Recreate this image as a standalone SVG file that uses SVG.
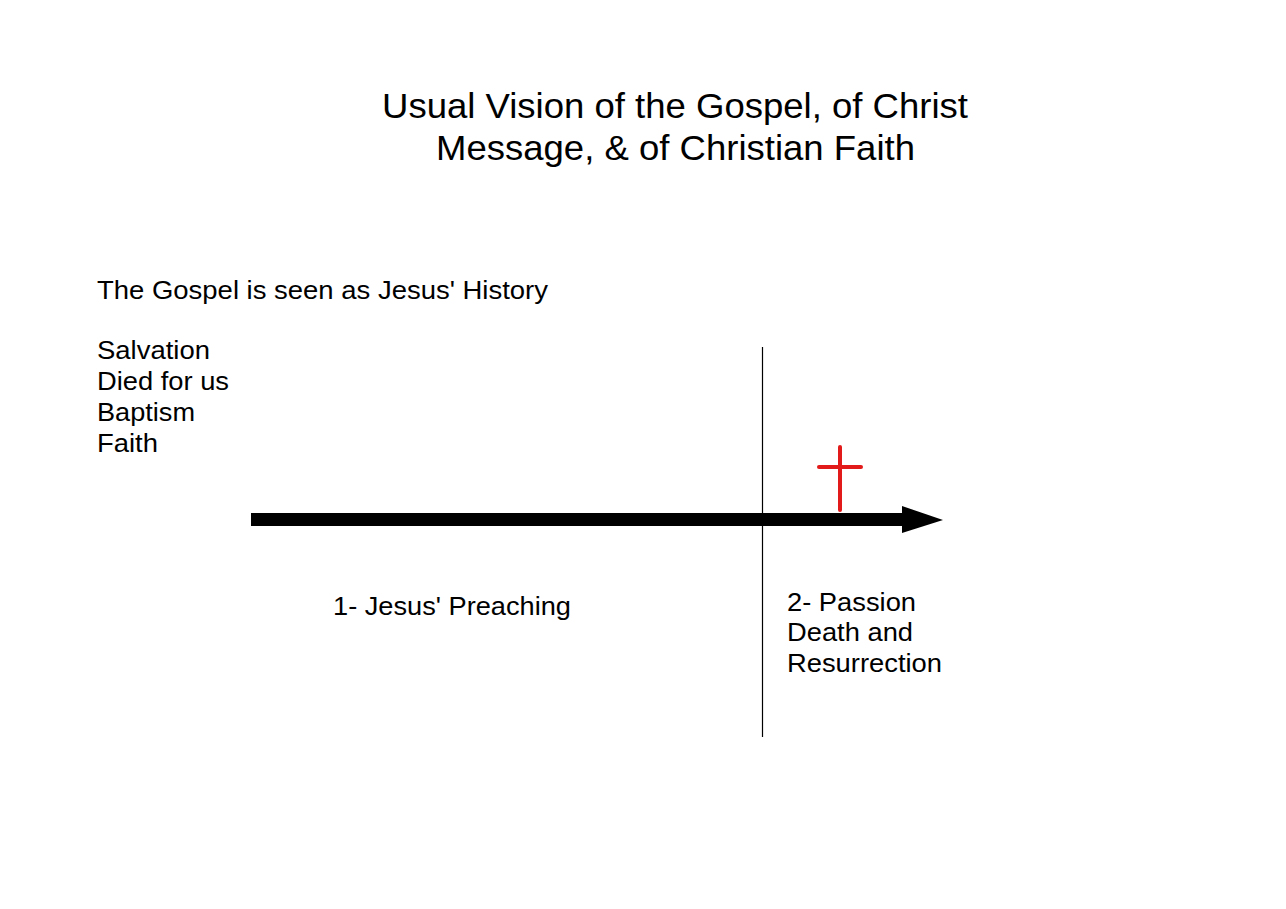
<svg xmlns="http://www.w3.org/2000/svg" width="1286" height="909" viewBox="0 0 1286 909">
<style>
text{font-family:"Liberation Sans",Arial,sans-serif;fill:#000}
.t{font-size:35px}
.l{font-size:26px}
</style>
<rect width="1286" height="909" fill="#fff"/>
<g id="title">
<text class="t" x="382" y="118" textLength="586" lengthAdjust="spacingAndGlyphs">Usual Vision of the Gospel, of Christ</text>
<text class="t" x="436" y="160" textLength="479" lengthAdjust="spacingAndGlyphs">Message, &amp; of Christian Faith</text>
</g>
<g id="subtitle"><text class="l" x="97" y="299" textLength="451" lengthAdjust="spacingAndGlyphs">The Gospel is seen as Jesus' History</text></g>
<g id="terms">
<text class="l" x="97" y="359" textLength="113" lengthAdjust="spacingAndGlyphs">Salvation</text>
<text class="l" x="97" y="390" textLength="132" lengthAdjust="spacingAndGlyphs">Died for us</text>
<text class="l" x="97" y="421" textLength="98" lengthAdjust="spacingAndGlyphs">Baptism</text>
<text class="l" x="97" y="452" textLength="61" lengthAdjust="spacingAndGlyphs">Faith</text>
</g>
<g id="connectors">
<line x1="762.5" y1="347" x2="762.5" y2="737" stroke="#000" stroke-width="1.2"/>
<rect x="251" y="513" width="653" height="13" fill="#000"/>
<polygon points="902,506 943,520 902,533" fill="#000"/>
</g>
<g id="cross" stroke="#e21a1a" stroke-width="4" stroke-linecap="round">
<line x1="840" y1="447" x2="840" y2="510"/>
<line x1="819" y1="467" x2="861" y2="467"/>
</g>
<g id="phase1"><text class="l" x="333" y="615" textLength="238" lengthAdjust="spacingAndGlyphs">1- Jesus' Preaching</text></g>
<g id="phase2">
<text class="l" x="787" y="611" textLength="129" lengthAdjust="spacingAndGlyphs">2- Passion</text>
<text class="l" x="787" y="641" textLength="126" lengthAdjust="spacingAndGlyphs">Death and</text>
<text class="l" x="787" y="672" textLength="155" lengthAdjust="spacingAndGlyphs">Resurrection</text>
</g>
</svg>
